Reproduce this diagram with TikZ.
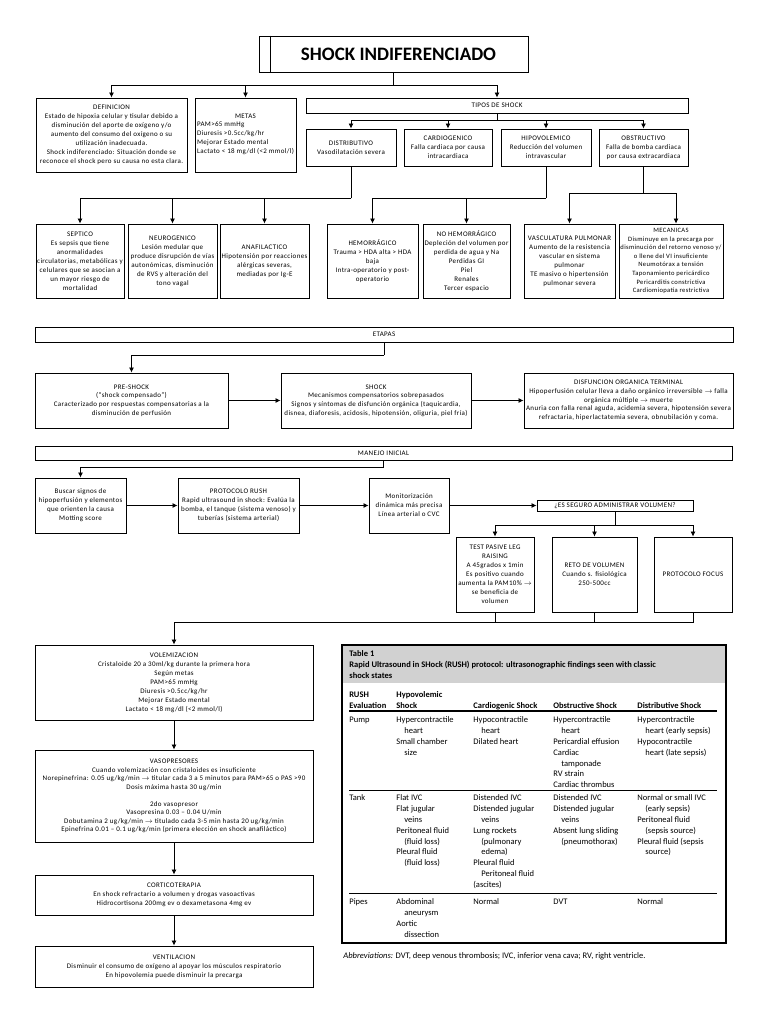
\documentclass[tikz,border=0pt]{standalone}
\usepackage{fontspec}
\setmainfont{Carlito}
\newfontfamily\cajafont[LetterSpace=5]{Carlito}
\usetikzlibrary{arrows.meta}
\newcommand{\flecha}{-{Latex[length=5pt,width=5pt]}}
\newcommand{\chica}{\cajafont\fontsize{7}{9}\selectfont}
\newcommand{\tabla}{\fontsize{8.5}{10.8}\selectfont}
\tikzset{%
  >={Latex[width=5pt,length=5pt]},
  % Estilos de las cajas:
            base/.style = {rectangle, draw=black, line width=0.9pt,
                           align=center, inner sep=1pt, font=\chica},
            caja/.style 2 args = {base, minimum width=#1, minimum height=#2},
            celda/.style = {anchor=north west, inner sep=0pt, align=left,
                           font=\tabla},
}

\begin{document}
\begin{tikzpicture}[x=1pt, y=-1pt, line width=0.8pt]
  \useasboundingbox (0,0) rectangle (768,1024);
  % Titulo y primera fila
  \node (titulo) [caja={269pt}{36pt}, font=\fontsize{19}{22}\selectfont\bfseries]
        at (393.5,54) {\hspace*{10pt}SHOCK INDIFERENCIADO};
  \draw[line width=0.9pt] ([xshift=12pt]titulo.north west) -- ([xshift=12pt]titulo.south west);
  \node (def)    [caja={151pt}{74pt}] at (111.5,135) {DEFINICION\\Estado de hipoxia celular y tisular debido a\\disminución del aporte de oxígeno y/o\\aumento del consumo del oxígeno o su\\utilización inadecuada.\\Shock indiferenciado: Situación donde se\\reconoce el shock pero su causa no esta clara.};
  \node (metas)  [caja={101pt}{74pt}] at (245.5,135) {METAS\\\begin{tabular}{@{}l@{}}PAM>65 mmHg\\Diuresis >0.5cc/kg/hr\\Mejorar Estado mental\\Lactato < 18 mg/dl (<2 mmol/l)\end{tabular}};
  \node (tipos)  [caja={382pt}{15pt}] at (497,105.5) {TIPOS DE SHOCK};

  % Tipos de shock
  \node (dist)   [caja={90pt}{37pt}] at (351,147.5) {DISTRIBUTIVO\\Vasodilatación severa};
  \node (cardio) [caja={88pt}{37pt}] at (448,147.5) {CARDIOGENICO\\Falla cardiaca por causa\\intracardiaca};
  \node (hipo)   [caja={90pt}{37pt}] at (546,147.5) {HIPOVOLEMICO\\Reducción del volumen\\intravascular};
  \node (obst)   [caja={89pt}{37pt}] at (643.5,147.5) {OBSTRUCTIVO\\Falla de bomba cardiaca\\por causa extracardiaca};

  % Subtipos
  \node (sept)   [caja={88pt}{74pt}] at (80,261) {SEPTICO\\Es sepsis que tiene\\anormalidades\\circulatorias, metabólicas y\\celulares que se asocian a\\un mayor riesgo de\\mortalidad};
  \node (neuro)  [caja={89pt}{74pt}] at (172.5,261) {NEUROGENICO\\Lesión medular que\\produce disrupción de vías\\autonómicas, disminución\\de RVS y alteración del\\tono vagal};
  \node (ana)    [caja={89pt}{74pt}] at (264.5,261) {ANAFILACTICO\\Hipotensión por reacciones\\alérgicas severas,\\mediadas por Ig-E};
  \node (hem)    [caja={91pt}{74pt}] at (372.5,261) {HEMORRÁGICO\\Trauma > HDA alta > HDA\\baja\\Intra-operatorio y post-\\operatorio};
  \node (nohem)  [caja={87pt}{74pt}] at (466.5,261) {NO HEMORRÁGICO\\Depleción del volumen por\\perdida de agua y Na\\Perdidas GI\\Piel\\Renales\\Tercer espacio};
  \node (vasc)   [caja={91pt}{74pt}] at (569.5,261) {VASCULATURA PULMONAR\\Aumento de la resistencia\\vascular en sistema\\pulmonar\\TE masivo o hipertensión\\pulmonar severa};
  \node (mec)    [caja={104pt}{74pt}, font=\cajafont\fontsize{6.6}{8.6}\selectfont] at (671,261) {MECANICAS\\Disminuye en la precarga por\\disminución del retorno venoso y/\\o llene del VI insuficiente\\Neumotórax a tensión\\Taponamiento pericárdico\\Pericarditis constrictiva\\Cardiomiopatía restrictiva};

  % Etapas
  \node (etapas) [caja={698pt}{15pt}] at (384,334.5) {ETAPAS};
  \node (pre)    [caja={193pt}{55pt}, font=\cajafont\fontsize{7}{8.7}\selectfont] at (131.5,400.5) {PRE-SHOCK\\(“shock compensado”)\\Caracterizado por respuestas compensatorias a la\\disminución de perfusión};
  \node (shock)  [caja={190pt}{55pt}, font=\cajafont\fontsize{7}{8.7}\selectfont] at (376,400.5) {SHOCK\\Mecanismos compensatorios sobrepasados\\Signos y síntomas de disfunción orgánica (taquicardia,\\disnea, diaforesis, acidosis, hipotensión, oliguria, piel fría)};
  \node (disf)   [caja={209pt}{55pt}, font=\cajafont\fontsize{7}{8.7}\selectfont] at (628.5,400.5) {DISFUNCION ORGANICA TERMINAL\\Hipoperfusión celular lleva a daño orgánico irreversible $\rightarrow$ falla\\orgánica múltiple $\rightarrow$ muerte\\Anuria con falla renal aguda, acidemia severa, hipotensión severa\\refractaria, hiperlactatemia severa, obnubilación y coma.};

  % Manejo inicial
  \node (manejo) [caja={697pt}{14pt}] at (383.5,453) {MANEJO INICIAL};
  \node (busc)   [caja={91pt}{55pt}] at (80.5,505.5) {Buscar signos de\\hipoperfusión y elementos\\que orienten la causa\\Motting score};
  \node (rush)   [caja={121pt}{55pt}] at (238.5,505.5) {PROTOCOLO RUSH\\Rapid ultrasound in shock: Evalúa la\\bomba, el tanque (sistema venoso) y\\tuberías (sistema arterial)};
  \node (monit)  [caja={80pt}{55pt}] at (409,505.5) {Monitorización\\dinámica más precisa\\Línea arterial o CVC};
  \node (seguro) [caja={156pt}{11pt}, inner sep=0pt] at (615,505.5) {¿ES SEGURO ADMINISTRAR VOLUMEN?};
  \node (test)   [caja={78pt}{75pt}] at (495,574.5) {TEST PASIVE LEG\\RAISING\\A 45grados x 1min\\Es positivo cuando\\aumenta la PAM10\% $\rightarrow$\\se beneficia de\\volumen};
  \node (reto)   [caja={85pt}{75pt}] at (594.5,574.5) {RETO DE VOLUMEN\\Cuando s. fisiológica\\250-500cc};
  \node (focus)  [caja={78pt}{75pt}] at (693,574.5) {PROTOCOLO FOCUS};

  % Columna de tratamiento
  \node (vol)    [caja={278pt}{75pt}] at (174,682.5) {VOLEMIZACION\\Cristaloide 20 a 30ml/kg durante la primera hora\\Según metas\\PAM>65 mmHg\\Diuresis >0.5cc/kg/hr\\Mejorar Estado mental\\Lactato < 18 mg/dl (<2 mmol/l)};
  \node (vaso)   [caja={278pt}{92pt}, font=\cajafont\fontsize{7}{8.5}\selectfont] at (174,796) {VASOPRESORES\\Cuando volemización con cristaloides es insuficiente\\Norepinefrina: 0.05 ug/kg/min $\rightarrow$ titular cada 3 a 5 minutos para PAM>65 o PAS >90\\Dosis máxima hasta 30 ug/min\\[8.5pt]2do vasopresor\\Vasopresina 0.03 – 0.04 U/min\\Dobutamina 2 ug/kg/min $\rightarrow$ titulado cada 3-5 min hasta 20 ug/kg/min\\Epinefrina 0.01 – 0.1 ug/kg/min (primera elección en shock anafiláctico)};
  \node (cort)   [caja={278pt}{40pt}] at (174,895) {CORTICOTERAPIA\\En shock refractario a volumen y drogas vasoactivas\\Hidrocortisona 200mg ev o dexametasona 4mg ev};
  \node (vent)   [caja={278pt}{41pt}] at (174,966.5) {VENTILACION\\Disminuir el consumo de oxígeno al apoyar los músculos respiratorio\\En hipovolemia puede disminuir la precarga};

  % Conectores
  \coordinate (tj) at (393.5,85);
  \draw (titulo.south) -- (tj);
  \draw[\flecha] (tj) -| (def.north);
  \draw[\flecha] (tj) -| (metas.north);
  \draw[\flecha] (tj) -| (tipos.north);
  \coordinate (tpj) at (497,120);
  \draw (tipos.south) -- (tpj);
  \draw[\flecha] (tpj) -| (dist.north);
  \draw[\flecha] (tpj) -| (cardio.north);
  \draw[\flecha] (tpj) -| (hipo.north);
  \draw[\flecha] (tpj) -| (obst.north);
  \coordinate (dj) at (351,198);
  \draw (dist.south) -- (dj);
  \draw[\flecha] (dj) -| (sept.north);
  \draw[\flecha] (dj) -| (neuro.north);
  \draw[\flecha] (dj) -| (ana.north);
  \coordinate (hj) at (546,198);
  \draw (hipo.south) -- (hj);
  \draw[\flecha] (hj) -| (hem.north);
  \draw[\flecha] (hj) -| (nohem.north);
  \coordinate (oj) at (643.5,193);
  \draw (obst.south) -- (oj);
  \draw[\flecha] (oj) -| (vasc.north);
  \draw[\flecha] (oj) -| ([xshift=5pt]mec.north);

  \coordinate (ej) at (384,355);
  \draw (etapas.south) -- (ej);
  \draw[\flecha] (ej) -| (pre.north);
  \draw[\flecha] (pre) -- (shock);
  \draw[\flecha] (shock) -- (disf);

  \coordinate (mj) at (383.5,467);
  \draw (manejo.south) -- (mj);
  \draw[\flecha] (mj) -| (busc.north);
  \draw[\flecha] (busc) -- (rush);
  \draw[\flecha] (rush) -- (monit);
  \draw[\flecha] (monit) -- (seguro);
  \coordinate (sj) at (615,525);
  \draw (seguro.south) -- (sj);
  \draw[\flecha] (sj) -| (test.north);
  \draw[\flecha] (sj) -| (reto.north);
  \draw[\flecha] (sj) -| (focus.north);
  \coordinate (vj) at (174,622);
  \draw[\flecha] (focus.south) |- (vj) -- (vol.north);
  \draw (test.south) -- (test.south |- vj);
  \draw (reto.south) -- (reto.south |- vj);
  \draw[\flecha] (vol) -- (vaso);
  \draw[\flecha] (vaso) -- (cort);
  \draw[\flecha] (cort) -- (vent);

  % Tabla RUSH
  \fill[black!18] (342,645) rectangle (726,683);
  \draw[line width=1.4pt] (342,645) rectangle (726,943);
  \node (tab)  [celda, font=\tabla\bfseries] at (349,650.5) {Table 1\\Rapid Ultrasound in SHock (RUSH) protocol: ultrasonographic findings seen with classic\\shock states};
  \node (h1)   [celda, font=\tabla\bfseries] at (349,691.5) {RUSH\\Evaluation};
  \node (h2)   [celda, font=\tabla\bfseries] at (396,691.5) {Hypovolemic\\Shock};
  \node (h3)   [celda, font=\tabla\bfseries] at (473,702.5) {Cardiogenic Shock};
  \node (h4)   [celda, font=\tabla\bfseries] at (553,702.5) {Obstructive Shock};
  \node (h5)   [celda, font=\tabla\bfseries] at (637,702.5) {Distributive Shock};
  \draw[line width=1.5pt] (349,711) -- (717,711);
  \node (p1)   [celda] at (349,716.5) {Pump};
  \node (p2)   [celda] at (396,716.5) {Hypercontractile\\\hspace*{8pt}heart\\Small chamber\\\hspace*{8pt}size};
  \node (p3)   [celda] at (473,716.5) {Hypocontractile\\\hspace*{8pt}heart\\Dilated heart};
  \node (p4)   [celda] at (553,716.5) {Hypercontractile\\\hspace*{8pt}heart\\Pericardial effusion\\Cardiac\\\hspace*{8pt}tamponade\\RV strain\\Cardiac thrombus};
  \node (p5)   [celda] at (637,716.5) {Hypercontractile\\\hspace*{8pt}heart (early sepsis)\\Hypocontractile\\\hspace*{8pt}heart (late sepsis)};
  \draw[line width=1pt] (349,790) -- (717,790);
  \node (t1)   [celda] at (349,794.5) {Tank};
  \node (t2)   [celda] at (396,794.5) {Flat IVC\\Flat jugular\\\hspace*{8pt}veins\\Peritoneal fluid\\\hspace*{8pt}(fluid loss)\\Pleural fluid\\\hspace*{8pt}(fluid loss)};
  \node (t3)   [celda] at (473,794.5) {Distended IVC\\Distended jugular\\\hspace*{8pt}veins\\Lung rockets\\\hspace*{8pt}(pulmonary\\\hspace*{8pt}edema)\\Pleural fluid\\\hspace*{8pt}Peritoneal fluid\\(ascites)};
  \node (t4)   [celda] at (553,794.5) {Distended IVC\\Distended jugular\\\hspace*{8pt}veins\\Absent lung sliding\\\hspace*{8pt}(pneumothorax)};
  \node (t5)   [celda] at (637,794.5) {Normal or small IVC\\\hspace*{8pt}(early sepsis)\\Peritoneal fluid\\\hspace*{8pt}(sepsis source)\\Pleural fluid (sepsis\\\hspace*{8pt}source)};
  \draw[line width=1pt] (349,893) -- (717,893);
  \node (q1)   [celda] at (349,898.5) {Pipes};
  \node (q2)   [celda] at (396,898.5) {Abdominal\\\hspace*{8pt}aneurysm\\Aortic\\\hspace*{8pt}dissection};
  \node (q3)   [celda] at (473,898.5) {Normal};
  \node (q4)   [celda] at (553,898.5) {DVT};
  \node (q5)   [celda] at (637,898.5) {Normal};
  \node (abrev) [celda] at (343,952.5) {\textit{Abbreviations:} DVT, deep venous thrombosis; IVC, inferior vena cava; RV, right ventricle.};
\end{tikzpicture}
\end{document}
